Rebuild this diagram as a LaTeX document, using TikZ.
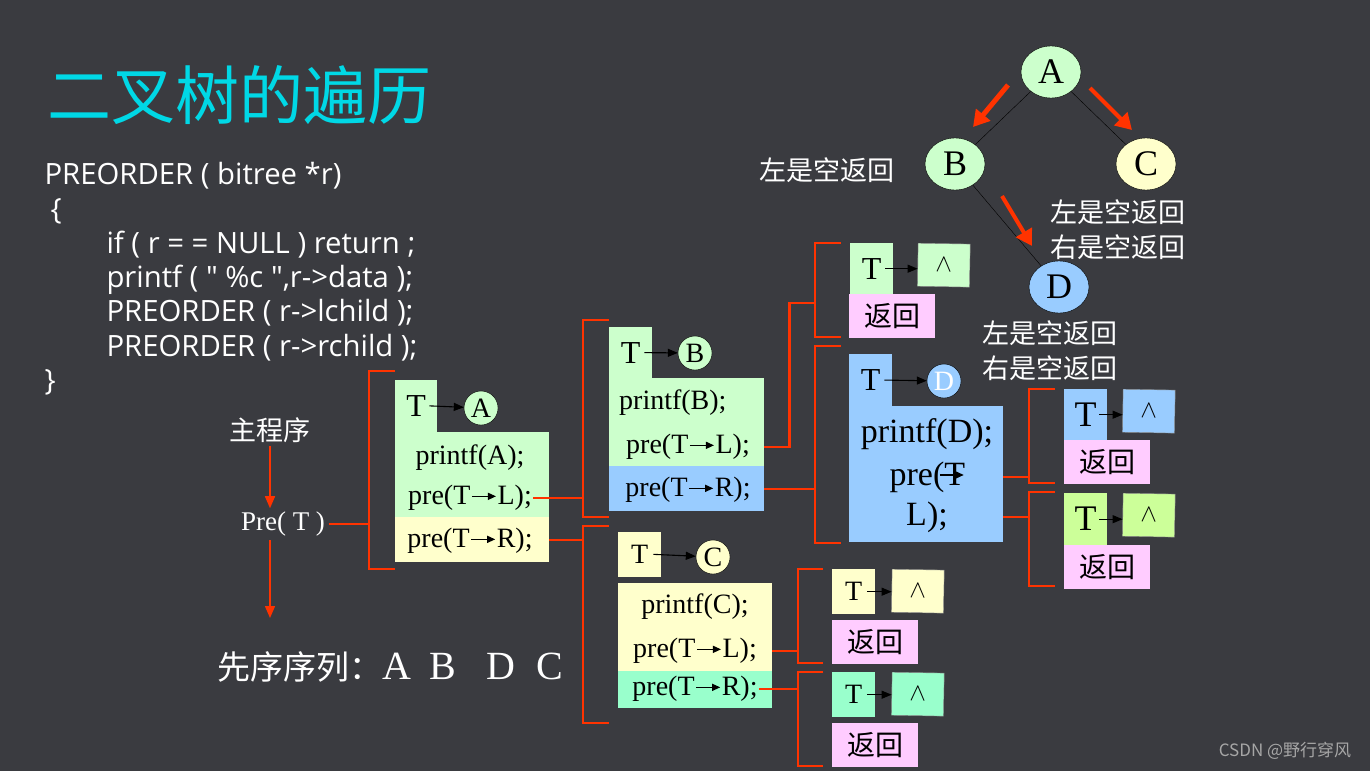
\documentclass[tikz,border=0pt]{standalone}
\usepackage{fontspec}
\setmainfont{Liberation Serif}
\newfontfamily\cjk{Noto Sans CJK SC}
\newfontfamily\codefont{Open Sans}
\usepackage{tikz}
\usetikzlibrary{arrows.meta,positioning,shapes.geometric,calc}
\definecolor{slidebg}{HTML}{3A3B40}
\definecolor{titlecyan}{HTML}{00D8E6}
\definecolor{callred}{HTML}{FF3300}
\definecolor{nodegreen}{HTML}{CCFFCC}
\definecolor{nodeyellow}{HTML}{FFFFCC}
\definecolor{nodeblue}{HTML}{99CCFF}
\definecolor{nodepink}{HTML}{FFCCFF}
\definecolor{nodelime}{HTML}{CCFF99}
\definecolor{nodeteal}{HTML}{99FFCC}
\newcommand\fs[1]{\fontsize{#1}{#1}\selectfont}
\newcommand\tto{\hspace{1pt}\tikz[baseline=-0.3em]\draw[-{Triangle[length=8pt,width=7pt]}, line width=1.2pt] (0pt,0pt) -- (24pt,0pt);\hspace{1pt}}
\tikzset{
  panel/.style={inner sep=0pt, anchor=north west},
  tbox/.style={panel, minimum width=43pt, minimum height=51pt, font=\fs{32}},
  nullbox/.style={panel, draw=black!45, thin, minimum width=52pt, minimum height=43pt, rotate=-1, font=\fs{32}},
  backbox/.style={panel, fill=nodepink, minimum width=86pt, minimum height=44pt, font=\cjk\fs{28}},
  stmt/.style={inner sep=1pt, font=\fs{28}},
  ptr/.style={circle, draw=black, thin, inner sep=0pt, minimum size=34pt, font=\fs{28}},
  treenode/.style={ellipse, draw=black, thin, minimum width=60pt, minimum height=52pt, font=\fs{36}},
  note/.style={text=white, font=\cjk\fontsize{27}{35}\selectfont, align=left},
  ptrarrow/.style={-{Triangle[length=10pt,width=8pt]}, line width=1.1pt, draw=black, shorten <=-8pt},
  callline/.style={draw=callred, line width=2.2pt},
  callarrow/.style={draw=callred, line width=1.5pt, -{Triangle[length=12pt,width=10pt]}},
  bigarrow/.style={draw=callred, line width=5pt, -{Triangle[length=16pt,width=18pt]}}
}

\begin{document}
\begin{tikzpicture}[x=1pt,y=-1pt]
\fill[slidebg] (0,0) rectangle (1370,771);
\useasboundingbox (0,0) rectangle (1370,771);

\node[text=titlecyan, font=\cjk\fs{64}, anchor=west] (title) at (44,95) {二叉树的遍历};
\node[text=white, font=\codefont\fontsize{29.3}{34.3}\selectfont, align=left, anchor=north west] (code) at (41,159) {%
PREORDER ( bitree *r)\\
\hspace*{6pt}\{\\
\hspace*{62pt}if ( r = = NULL ) return ;\\
\hspace*{62pt}printf ( " \%c ",r->data );\\
\hspace*{62pt}PREORDER ( r->lchild );\\
\hspace*{62pt}PREORDER ( r->rchild );\\
\}};

% tree
\node[treenode, fill=nodegreen] (tA) at (1051,72) {A};
\node[treenode, fill=nodegreen] (tB) at (955,164) {B};
\node[treenode, fill=nodeyellow] (tC) at (1146,164) {C};
\node[treenode, fill=nodeblue] (tD) at (1059,287) {D};
\draw (tA) -- (tB);
\draw (tA) -- (tC);
\draw (tB) -- (tD);
\draw[bigarrow] (1008,85) -- (973,127);
\draw[bigarrow, line width=4pt] (1090,88) -- (1132,130);
\draw[bigarrow, line width=4pt] (1002,196) -- (1032,246);
\node[note, anchor=west] (bnote) at (756,170) {左是空返回};
\node[note, anchor=west] (cnote) at (1047,230) {左是空返回\\右是空返回};
\node[note, anchor=west] (dnote) at (979,351) {左是空返回\\右是空返回};

% main program
\node[note] (main) at (270,430) {主程序};
\node[text=white, font=\fs{27}] (pre) at (283,524) {Pre( T )};
\coordinate (out) at (270,618);
\draw[callarrow] (main.south) -- (main.south |- pre.north);
\draw[callarrow] (main.south |- pre.south) -- (out);
\node[text=white, anchor=west] (seq) at (214,667) {{\cjk\fs{33}先序序列：}{\fs{40}A\hspace{18pt}B\hspace{30pt}D\hspace{22pt}C}};

% brackets
\draw[callline] (395,371) -- (369,371) coordinate (kA) -- (369,569) -- (395,569);
\draw[callline] (609,320) -- (583,320) coordinate (kB) -- (583,517) -- (609,517);
\draw[callline] (609,526) -- (583,526) coordinate (kC) -- (583,723) -- (609,723);
\draw[callline] (841,243) -- (815,243) coordinate (kBL) -- (815,337) -- (841,337);
\draw[callline] (841,346) -- (815,346) coordinate (kD) -- (815,543) -- (841,543);
\draw[callline] (1055,389) -- (1029,389) coordinate (kDL) -- (1029,483) -- (1055,483);
\draw[callline] (1055,492) -- (1029,492) coordinate (kDR) -- (1029,586) -- (1055,586);
\draw[callline] (823,569) -- (798,569) coordinate (kCL) -- (798,663) -- (823,663);
\draw[callline] (823,672) -- (798,672) coordinate (kCR) -- (798,766) -- (823,766);
\draw[callline] (pre.east) -- (pre.east -| kA);

% frame A
\node[tbox, fill=nodegreen, minimum width=42pt, minimum height=52pt] (aT) at (395,380) {T};
\node[panel, fill=nodegreen, minimum width=154pt, minimum height=85pt] (aBody) at (395,432) {};
\node[panel, fill=nodeyellow, minimum width=154pt, minimum height=45pt] (aRb) at (395,517) {};
\node[ptr, fill=nodegreen] (aN) at (481,408) {A};
\draw[ptrarrow] (aT.east) -- (aN);
\node[stmt] (aP) at (470,458) {printf(A);};
\node[stmt] (aL) at (470,498) {pre(T\tto L);};
\node[stmt] (aR) at (470,541) {pre(T\tto R);};
\draw[callline] (aL.east) -- (aL.east -| kB);
\draw[callline] (aRb.east) -- (aRb.east -| kC);

% frame B
\node[tbox, fill=nodegreen] (bT) at (609,327) {T};
\node[panel, fill=nodegreen, minimum width=155pt, minimum height=88pt] (bBody) at (609,378) {};
\node[panel, fill=nodeblue, minimum width=155pt, minimum height=45pt] (bRb) at (609,466) {};
\node[ptr, fill=nodegreen] (bN) at (695,353) {B};
\draw[ptrarrow] (bT.east) -- (bN);
\node[stmt, anchor=west] (bP) at (618,403) {printf(B);};
\node[stmt] (bL) at (688,447) {pre(T\tto L);};
\node[stmt] (bR) at (688,490) {pre(T\tto R);};
\draw[callline] (bL.east -| bBody.east) -- ++(25,0) |- ($(kBL)+(0,60)$);
\draw[callline] (bRb.east) -- (bRb.east -| kD);

% frame C
\node[tbox, fill=nodeyellow, minimum height=45pt, font=\fs{28}] (cT) at (618,532) {T};
\node[panel, fill=nodeyellow, minimum width=154pt, minimum height=88pt] (cBody) at (618,583) {};
\node[panel, fill=nodeteal, minimum width=154pt, minimum height=37pt] (cRb) at (618,671) {};
\node[ptr, fill=nodeyellow] (cN) at (713,557) {C};
\draw[ptrarrow] (cT.east) -- (cN);
\node[stmt] (cP) at (695,607) {printf(C);};
\node[stmt] (cL) at (695,651) {pre(T\tto L);};
\node[stmt] (cR) at (695,689) {pre(T\tto R);};
\draw[callline] (cL.east -| cBody.east) -- (cL.east -| kCL);
\draw[callline] (cR.east) -- (cR.east -| kCR);

% frame D
\node[tbox, fill=nodeblue, minimum height=52pt] (dT) at (849,354) {T};
\node[panel, fill=nodeblue, minimum width=154pt, minimum height=136pt] (dBody) at (849,406) {};
\node[ptr, fill=nodeblue, text=white] (dN) at (944,381) {D};
\draw[ptrarrow] (dT.east) -- (dN);
\node[stmt, font=\fs{34}] (dP) at (927,434) {printf(D);};
\node[stmt, font=\fs{34}] (dL) at (927,477) {pre(T\hspace{-27pt}\tto};
\node[stmt, font=\fs{34}] (dR) at (927,517) {L);};
\draw[callline] (dL.east -| dBody.east) -- (dL.east -| kDL);
\draw[callline] (dR.east -| dBody.east) -- (dR.east -| kDR);

% null children
\node[tbox, fill=nodegreen] (blT) at (850,243) {T};
\node[nullbox, fill=nodegreen] (blN) at (918,243) {$\wedge$};
\node[backbox] (blB) at (849,294) {返回};
\draw[ptrarrow] (blT.east) -- (blT.east -| blN.west);

\node[tbox, fill=nodeblue, font=\fs{36}] (dlT) at (1064,389) {T};
\node[nullbox, fill=nodeblue] (dlN) at (1123,389) {$\wedge$};
\node[backbox] (dlB) at (1064,440) {返回};
\draw[ptrarrow] (dlT.east) -- (dlT.east -| dlN.west);

\node[tbox, fill=nodelime, minimum height=52pt, font=\fs{36}] (drT) at (1064,493) {T};
\node[nullbox, fill=nodelime] (drN) at (1123,493) {$\wedge$};
\node[backbox] (drB) at (1064,545) {返回};
\draw[ptrarrow] (drT.east) -- (drT.east -| drN.west);

\node[tbox, fill=nodeyellow, minimum height=45pt, font=\fs{28}] (clT) at (832,569) {T};
\node[nullbox, fill=nodeyellow] (clN) at (892,569) {$\wedge$};
\node[backbox] (clB) at (832,620) {返回};
\draw[ptrarrow] (clT.east) -- (clT.east -| clN.west);

\node[tbox, fill=nodeteal, minimum height=45pt, font=\fs{28}] (crT) at (832,672) {T};
\node[nullbox, fill=nodeteal] (crN) at (892,672) {$\wedge$};
\node[backbox] (crB) at (832,723) {返回};
\draw[ptrarrow] (crT.east) -- (crT.east -| crN.west);

\node[text=black!35, font=\cjk\fs{17}] (mark) at (1285,751) {CSDN @野行穿风};
\end{tikzpicture}
\end{document}
